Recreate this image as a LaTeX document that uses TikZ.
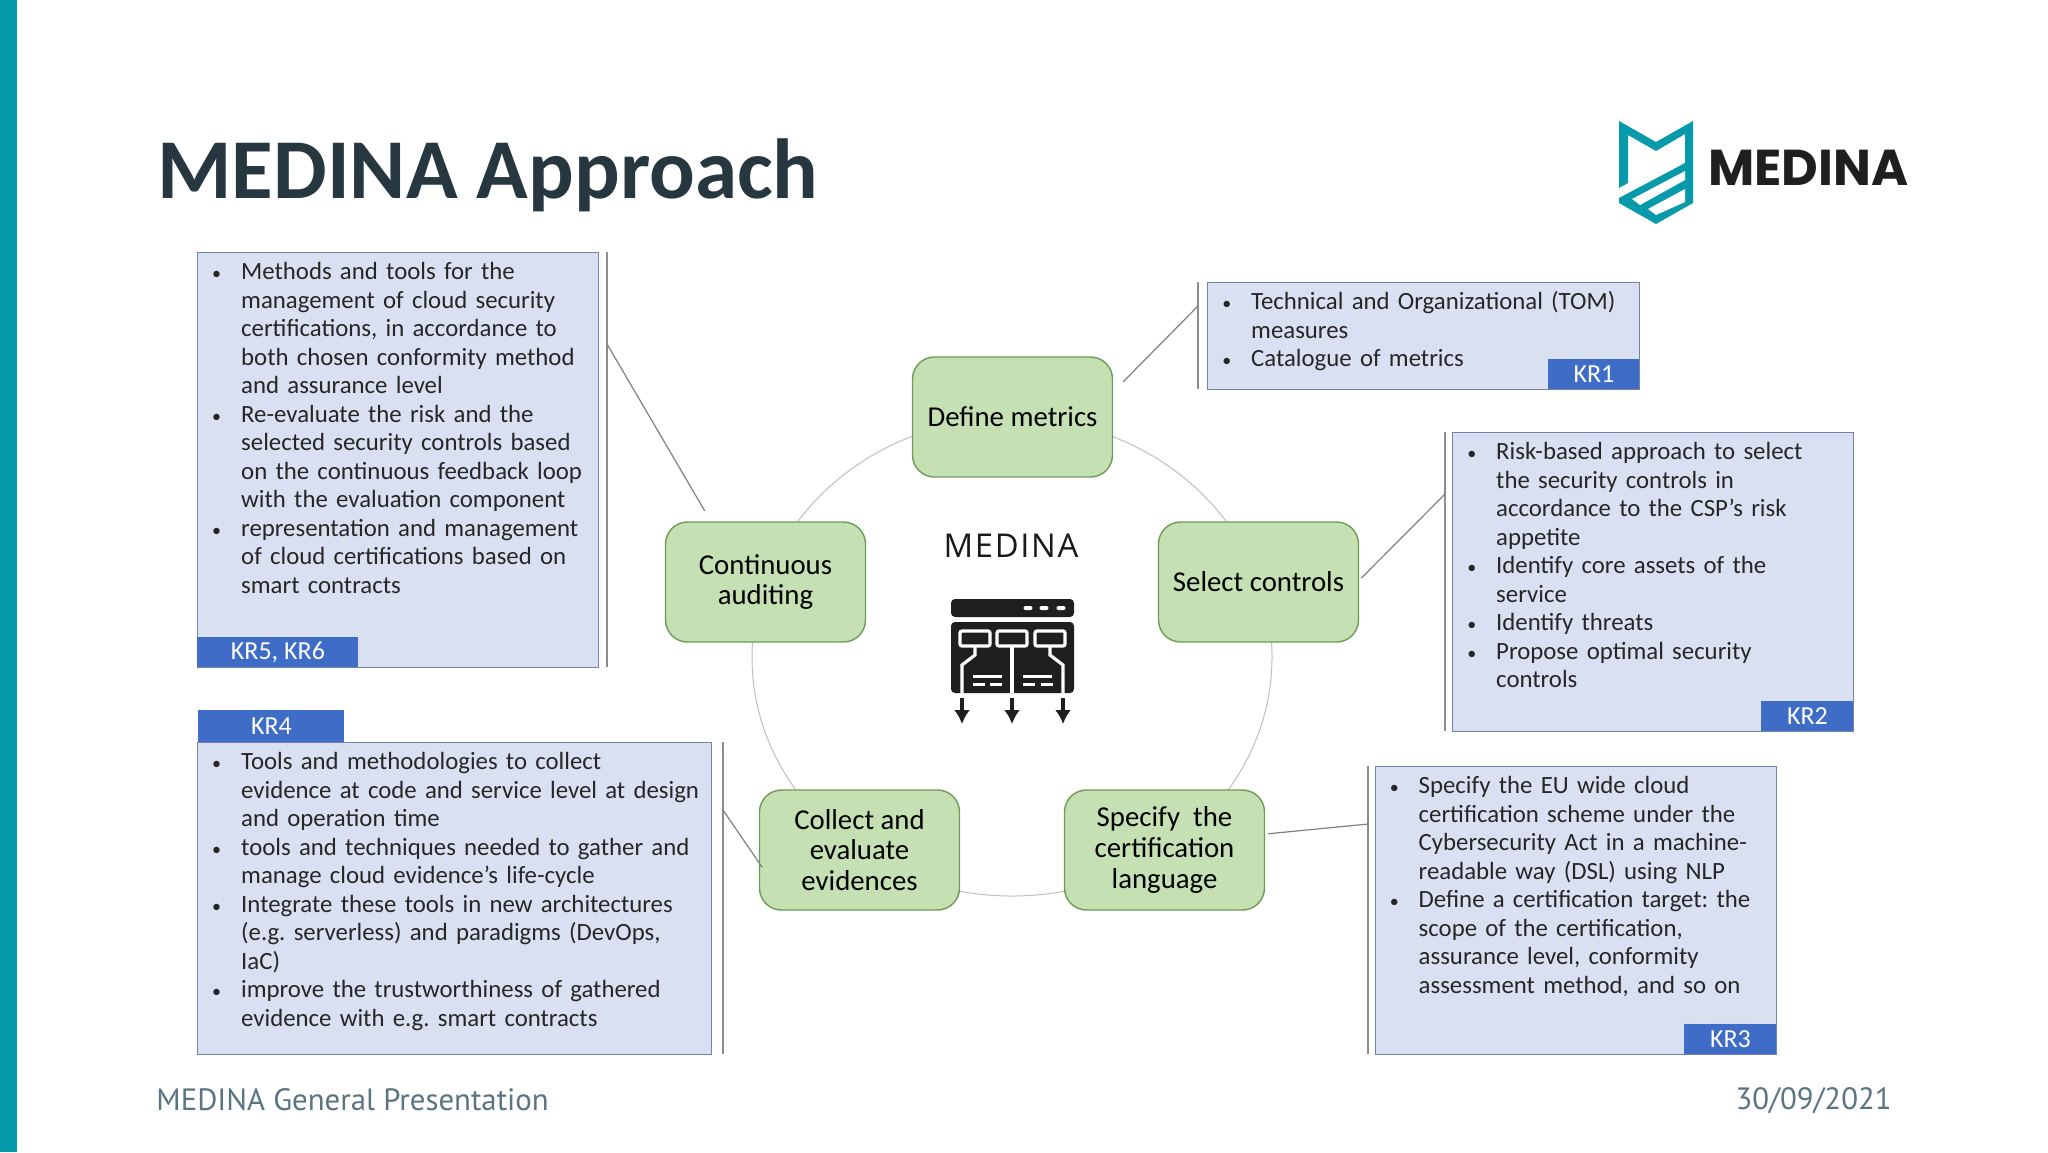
\documentclass[tikz,border=0pt]{standalone}
\usepackage{fontspec}
\usetikzlibrary{arrows.meta}
\setmainfont{Carlito}
\newfontfamily\logofont{Poppins}
\newfontfamily\footfont{PT Sans}
\newfontfamily\centerfont[LetterSpace=5]{Open Sans}
\definecolor{teal}{HTML}{079AAB}
\definecolor{titlegray}{HTML}{263740}
\definecolor{footgray}{HTML}{5A7480}
\definecolor{boxfill}{HTML}{D9E0F2}
\definecolor{boxline}{HTML}{7484A8}
\definecolor{tagblue}{HTML}{3E6CC6}
\definecolor{greenfill}{HTML}{C5E0B3}
\definecolor{greenline}{HTML}{6F9B56}
\newenvironment{krlist}{\begin{list}{{\fontsize{9}{9}\selectfont\textbullet}}{\setlength{\leftmargin}{21.4pt}\setlength{\labelwidth}{10pt}\setlength{\labelsep}{10pt}\setlength{\itemsep}{0pt}\setlength{\parsep}{0pt}\setlength{\topsep}{0pt}\setlength{\partopsep}{0pt}}}{\end{list}}
\frenchspacing
\begin{document}
\begin{tikzpicture}[x=0.5pt, y=-0.5pt,
	main/.style = {draw=greenline, fill=greenfill, line width=0.7pt, rounded corners=11pt, minimum width=100pt, minimum height=60pt, inner sep=0pt, align=center, font=\fontsize{14.4}{15.3}\selectfont},
	krbox/.style = {draw=boxline, fill=boxfill, line width=0.7pt, anchor=north west, inner sep=0pt},
	krtext/.style = {anchor=north west, inner sep=0pt, text width=198pt, font=\fontsize{12.4}{14.25}\selectfont, text=black!85},
	krtag/.style = {fill=tagblue, text=white, inner sep=0pt, anchor=north west, font=\fontsize{13}{14}\selectfont},
	bracket/.style = {draw=black!45, line width=0.7pt},
	leader/.style = {draw=black!50, line width=0.6pt},
	ring/.style = {draw=black!25, line width=0.5pt}]
	\useasboundingbox (0,0) rectangle (2048,1152);
	\fill[white] (0,0) rectangle (2048,1152);
	\fill[teal] (0,0) rectangle (17,1152);
	\node[anchor=west, inner sep=0pt, text=titlegray] (title) at (157,175) {\bfseries\fontsize{42.6}{48}\selectfont MEDINA Approach};
	\node[anchor=west, inner sep=0pt, text=footgray] (foot) at (156,1100) {\footfont\fontsize{15.4}{18}\selectfont MEDINA General Presentation};
	\node[anchor=east, inner sep=0pt, text=footgray] (date) at (1892,1101) {\footfont\fontsize{15.4}{18}\selectfont 30/09/2021};
	\fill[teal] (1619,121) -- (1656,142) -- (1693,121) -- (1693,203) -- (1656,224) -- (1619,203) -- (1619,198) -- (1685,163) -- (1685,134) -- (1656,151) -- (1628,135) -- (1628,183) -- (1619,188) -- cycle;
	\fill[white] (1632,199) -- (1685,171) -- (1685,180) -- (1640,205) -- cycle;
	\fill[white] (1648,209) -- (1685,189) -- (1685,202) -- (1656,215) -- cycle;
	\node[anchor=west, inner sep=0pt, text=black!88] (logo) at (1708,168) {\logofont\bfseries\fontsize{25.2}{28}\selectfont MEDINA};
	\draw[ring] (1012,657) ellipse (260 and 239);
	\node[main] (metrics) at (1012.5,417) {Define metrics};
	\node[main] (auditing) at (765.5,582) {Continuous\\auditing};
	\node[main] (controls) at (1258.5,582) {Select controls};
	\node[main] (evidences) at (859.5,850) {Collect and\\evaluate\\evidences};
	\node[main] (language) at (1164.5,850) {Specify\ \ the\\certification\\language};
	\node[inner sep=0pt, text=black!90] (center) at (1011,546) {\centerfont\fontsize{16.4}{18}\selectfont MEDINA};
	\fill[black!88, rounded corners=2pt] (951,599) rectangle (1074,617);
	\fill[black!88, rounded corners=2pt] (951,622) rectangle (1074,693);
	\foreach \x in {1028,1044,1061}
		\fill[white, rounded corners=1pt] (\x-4.5,606) rectangle (\x+4.5,610);
	\foreach \x in {960,997,1035}
		\draw[white, line width=1.6pt, rounded corners=1pt] (\x,631) rectangle (\x+30,646);
	\draw[white, line width=1.6pt] (975,646) -- (975,655) -- (962,665) -- (962,693);
	\draw[white, line width=1.6pt] (1012,646) -- (1012,693);
	\draw[white, line width=1.6pt] (1050,646) -- (1050,655) -- (1063,665) -- (1063,693);
	\foreach \x in {973,1023}
		\fill[white] (\x,675) rectangle (\x+29,678);
	\foreach \x in {973,990,1023,1041}
		\fill[white] (\x,683) rectangle (\x+12,686);
	\foreach \x in {962,1012,1063}
		\draw[black!88, line width=1.8pt, -{Latex[length=7pt,width=8pt]}] (\x,698) -- (\x,724);
	\node[krbox, minimum width=200.5pt, minimum height=207.5pt] (box5) at (197,252) {};
	\node[krbox, minimum width=257pt, minimum height=156pt] (box4) at (197,742) {};
	\node[krbox, minimum width=216pt, minimum height=53.5pt] (box1) at (1207,282) {};
	\node[krbox, minimum width=200.5pt, minimum height=149.5pt] (box2) at (1452,432) {};
	\node[krbox, minimum width=200.5pt, minimum height=144pt] (box3) at (1375,766) {};
	\node[krtext] (text5) at (198,251) {\begin{krlist}
		\item Methods and tools for the\\management of cloud security\\certifications, in accordance to\\both chosen conformity method\\and assurance level
		\item Re-evaluate the risk and the\\selected security controls based\\on the continuous feedback loop\\with the evaluation component
		\item representation and management\\of cloud certifications based on\\smart contracts
	\end{krlist}};
	\node[krtext, text width=252pt] (text4) at (198,741) {\begin{krlist}
		\item Tools and methodologies to collect\\evidence at code and service level at design\\and operation time
		\item tools and techniques needed to gather and\\manage cloud evidence’s life-cycle
		\item Integrate these tools in new architectures\\(e.g. serverless) and paradigms (DevOps,\\IaC)
		\item improve the trustworthiness of gathered\\evidence with e.g. smart contracts
	\end{krlist}};
	\node[krtext, text width=212pt] (text1) at (1208,281) {\begin{krlist}
		\item Technical and Organizational (TOM)\\measures
		\item Catalogue of metrics
	\end{krlist}};
	\node[krtext] (text2) at (1453,431) {\begin{krlist}
		\item Risk-based approach to select\\the security controls in\\accordance to the CSP’s risk\\appetite
		\item Identify core assets of the\\service
		\item Identify threats
		\item Propose optimal security\\controls
	\end{krlist}};
	\node[krtext] (text3) at (1375.5,765) {\begin{krlist}
		\item Specify the EU wide cloud\\certification scheme under the\\Cybersecurity Act in a machine-\\readable way (DSL) using NLP
		\item Define a certification target: the\\scope of the certification,\\assurance level, conformity\\assessment method, and so on
	\end{krlist}};
	\node[krtag, minimum width=80.5pt, minimum height=15pt] (tag5) at (197,637) {KR5, KR6};
	\node[krtag, minimum width=73pt, minimum height=16pt] (tag4) at (198,710) {KR4};
	\node[krtag, minimum width=45.5pt, minimum height=15pt] (tag1) at (1548,359) {KR1};
	\node[krtag, minimum width=46pt, minimum height=15pt] (tag2) at (1761,701) {KR2};
	\node[krtag, minimum width=46pt, minimum height=15pt] (tag3) at (1684,1024) {KR3};
	\coordinate (top5) at (607,252);
	\coordinate (end5) at (607,667);
	\coordinate (top4) at (723,742);
	\coordinate (end4) at (723,1054);
	\coordinate (top1) at (1198,282);
	\coordinate (end1) at (1198,389);
	\coordinate (top2) at (1445,432);
	\coordinate (end2) at (1445,731);
	\coordinate (top3) at (1368,766);
	\coordinate (end3) at (1368,1054);
	\draw[bracket] (top5) -- (end5);
	\draw[bracket] (top4) -- (end4);
	\draw[bracket] (top1) -- (end1);
	\draw[bracket] (top2) -- (end2);
	\draw[bracket] (top3) -- (end3);
	\coordinate (hit5) at (607,344);
	\coordinate (hit4) at (723,810);
	\coordinate (hit1) at (1198,306);
	\coordinate (hit2) at (1445,494);
	\coordinate (hit3) at (1368,824);
	\draw[leader, shorten <=6pt] (auditing.132) -- (hit5);
	\draw[leader, shorten <=-3pt] (evidences.187) -- (hit4);
	\draw[leader, shorten <=7pt] (metrics.14) -- (hit1);
	\draw[leader, shorten <=1.5pt] (controls.1) -- (hit2);
	\draw[leader, shorten <=1.5pt] (language.9) -- (hit3);
\end{tikzpicture}
\end{document}
